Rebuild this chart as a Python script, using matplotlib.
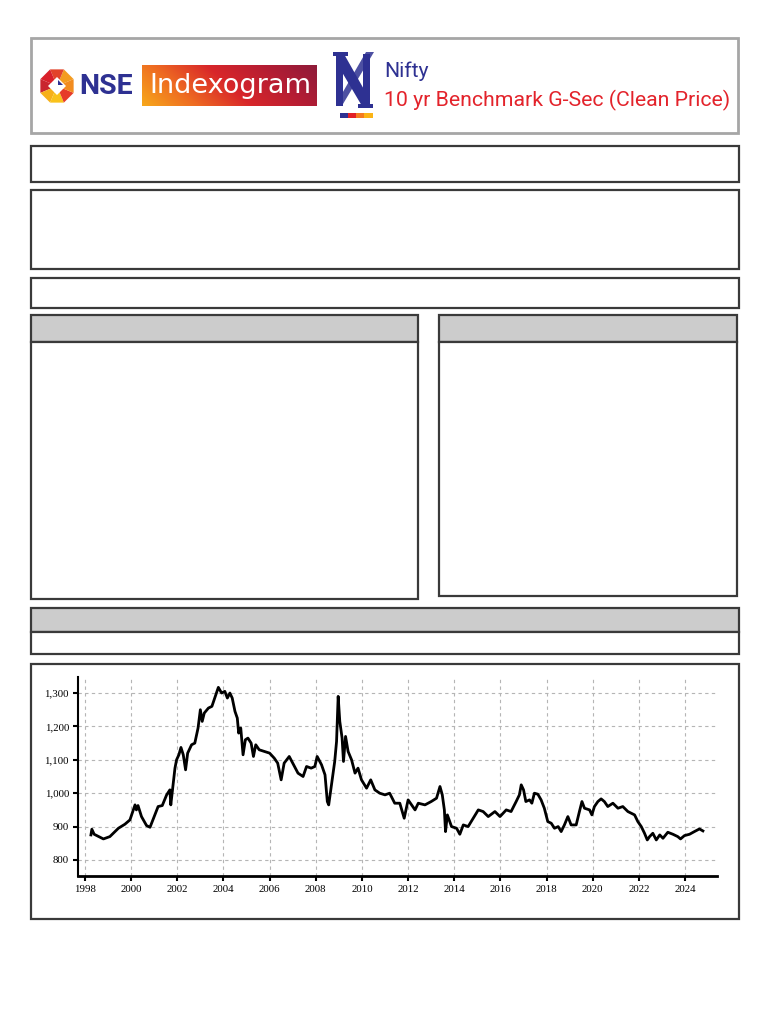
import matplotlib
matplotlib.use("Agg")
import matplotlib.pyplot as plt
import numpy as np
from matplotlib.patches import Rectangle, Polygon
from matplotlib.colors import LinearSegmentedColormap
from matplotlib.ticker import FuncFormatter

# index level (decimal year, clean price index)
years = [1998.26, 1998.30, 1998.40, 1998.80, 1999.08, 1999.45, 1999.73, 1999.95,
         2000.10, 2000.17, 2000.23, 2000.30, 2000.45, 2000.67, 2000.82, 2001.03,
         2001.17, 2001.35, 2001.54, 2001.68, 2001.72, 2001.80, 2001.90, 2001.97,
         2002.07, 2002.16, 2002.26, 2002.36, 2002.45, 2002.62, 2002.76, 2002.90,
         2003.00, 2003.08, 2003.17, 2003.35, 2003.50, 2003.60, 2003.70, 2003.78,
         2003.92, 2004.06, 2004.17, 2004.28, 2004.38, 2004.50, 2004.60, 2004.66,
         2004.75, 2004.85, 2004.95, 2005.06, 2005.20, 2005.30, 2005.40, 2005.55,
         2005.77, 2006.00, 2006.20, 2006.35, 2006.50, 2006.63, 2006.85, 2007.00,
         2007.23, 2007.45, 2007.60, 2007.80, 2007.96, 2008.06, 2008.25, 2008.40,
         2008.50, 2008.56, 2008.68, 2008.82, 2008.90, 2008.97, 2009.04, 2009.14,
         2009.20, 2009.29, 2009.40, 2009.55, 2009.70, 2009.83, 2009.98, 2010.20,
         2010.38, 2010.56, 2010.77, 2011.00, 2011.20, 2011.42, 2011.64, 2011.83,
         2012.00, 2012.15, 2012.30, 2012.44, 2012.73, 2013.00, 2013.23, 2013.38,
         2013.48, 2013.57, 2013.62, 2013.70, 2013.88, 2014.10, 2014.24, 2014.39,
         2014.60, 2014.82, 2015.04, 2015.25, 2015.47, 2015.76, 2015.98, 2016.25,
         2016.46, 2016.68, 2016.82, 2016.90, 2017.00, 2017.10, 2017.26, 2017.36,
         2017.47, 2017.62, 2017.76, 2017.90, 2018.05, 2018.20, 2018.34, 2018.50,
         2018.63, 2018.77, 2018.92, 2019.06, 2019.28, 2019.42, 2019.53, 2019.64,
         2019.86, 2019.96, 2020.07, 2020.22, 2020.36, 2020.50, 2020.65, 2020.87,
         2021.09, 2021.30, 2021.52, 2021.81, 2021.95, 2022.10, 2022.24, 2022.36,
         2022.46, 2022.60, 2022.75, 2022.90, 2023.04, 2023.25, 2023.47, 2023.68,
         2023.80, 2023.97, 2024.19, 2024.40, 2024.62, 2024.77]
values = [875, 892, 877, 863, 870, 895, 907, 920,
          950, 965, 950, 963, 930, 903, 898, 935,
          960, 963, 995, 1010, 965, 1015, 1075, 1100,
          1115, 1137, 1115, 1070, 1120, 1145, 1150, 1195,
          1250, 1215, 1240, 1255, 1260, 1280, 1300, 1317,
          1300, 1305, 1285, 1300, 1285, 1245, 1225, 1180,
          1195, 1115, 1160, 1165, 1150, 1110, 1145, 1130,
          1125, 1120, 1105, 1090, 1040, 1090, 1110, 1090,
          1060, 1050, 1080, 1075, 1080, 1110, 1085, 1055,
          975, 965, 1025, 1095, 1155, 1290, 1215, 1165,
          1095, 1170, 1125, 1100, 1060, 1075, 1040, 1015,
          1040, 1010, 1000, 995, 1000, 970, 970, 925,
          980, 965, 950, 970, 965, 975, 985, 1020,
          995, 950, 885, 935, 900, 895, 877, 905,
          900, 925, 950, 945, 930, 945, 930, 950,
          945, 975, 995, 1025, 1010, 975, 980, 970,
          1000, 997, 980, 955, 915, 910, 895, 900,
          885, 905, 930, 905, 905, 945, 975, 955,
          950, 935, 960, 975, 983, 975, 960, 970,
          955, 960, 945, 935, 915, 900, 880, 860,
          870, 880, 860, 875, 865, 883, 877, 870,
          863, 873, 877, 885, 893, 887]

x_ticks = [1998, 2000, 2002, 2004, 2006, 2008, 2010, 2012, 2014, 2016, 2018, 2020, 2022, 2024]
y_ticks = [800, 900, 1000, 1100, 1200, 1300]

title_top = "Nifty"
title_main = "10 yr Benchmark G-Sec (Clean Price)"

NAVY = "#2e3192"
RED = "#e3232b"
GRAY_FILL = "#cccccc"
EDGE = "#3a3a3a"

fig = plt.figure(figsize=(7.68, 10.24), dpi=100)
fig.patch.set_facecolor("white")

# page layer in pixel coordinates
bg = fig.add_axes([0, 0, 1, 1])
bg.set_axis_off()


def box(x0, y0, x1, y1, fc="white", ec=EDGE, lw=1.6):
    bg.add_patch(Rectangle((x0, y0), x1 - x0, y1 - y0, facecolor=fc, edgecolor=ec, linewidth=lw))


box(31, 38, 738, 133, ec="#a6a6a6", lw=2.0)
box(31, 146, 739, 182)
box(31, 190, 739, 269)
box(31, 278, 739, 308)
box(31, 315, 418, 342, fc=GRAY_FILL)
box(31, 342, 418, 599)
box(439, 315, 737, 342, fc=GRAY_FILL)
box(439, 342, 737, 596)
box(31, 608, 739, 632, fc=GRAY_FILL)
box(31, 632, 739, 654)
box(31, 664, 739, 919)

# NSE octagon logo
cx, cy, r = 57, 86, 18
oct_cols = ["#f39c1f", "#e2432a", "#d9202a", "#c9252f", "#f6b01a", "#f9c21b", "#e63b2a", "#f28c20"]
ang = np.deg2rad(np.arange(8) * 45 + 22.5)
for i in range(8):
    a0, a1 = ang[i], ang[(i + 1) % 8]
    bg.add_patch(Polygon([(cx, cy), (cx + r * np.cos(a0), cy - r * np.sin(a0)),
                          (cx + r * np.cos(a1), cy - r * np.sin(a1))],
                         closed=True, facecolor=oct_cols[i], edgecolor="none"))
bg.add_patch(Polygon([(cx, cy - 9), (cx + 9, cy), (cx, cy + 9), (cx - 9, cy)],
                     closed=True, facecolor="white", edgecolor="none"))
bg.add_patch(Polygon([(cx + 1, cy - 6), (cx + 6, cy - 1), (cx + 1, cy - 1)],
                     closed=True, facecolor=NAVY, edgecolor="none"))
bg.text(79, 87, "NSE", color=NAVY, fontsize=20.5, fontweight="bold",
        family="Roboto", ha="left", va="center")

# Indexogram banner
gx, gy = np.meshgrid(np.linspace(0, 1, 200), np.linspace(0, 1, 50))
grad = 0.8 * gx + 0.2 * (1 - gy)
cmap = LinearSegmentedColormap.from_list("idx", ["#f7a81b", "#ee6a22", "#d8262a", "#b51d33", "#8e1b3a"])
bg.imshow(grad, extent=[142, 317, 106, 65], cmap=cmap, aspect="auto", zorder=1)
bg.text(149, 86, "Indexogram", color="white", fontsize=19.5, family="DejaVu Sans",
        ha="left", va="center", zorder=2)

# Nifty "N" mark
nav = dict(facecolor=NAVY, edgecolor="none")
bg.add_patch(Polygon([(336, 54), (343, 54), (343, 106), (336, 106)], **nav))
bg.add_patch(Polygon([(363, 54), (370, 54), (370, 106), (363, 106)], **nav))
bg.add_patch(Polygon([(336, 54), (344, 54), (370, 100), (370, 106), (362, 106), (336, 62)], **nav))
bg.add_patch(Polygon([(333, 52), (348, 52), (348, 56), (333, 56)], **nav))
bg.add_patch(Polygon([(358, 104), (373, 104), (373, 108), (358, 108)], **nav))
bg.add_patch(Polygon([(366, 52), (374, 52), (343, 104), (336, 104)], facecolor=NAVY, edgecolor="none", alpha=0.85))
for x0, c in zip([340, 348, 356, 364], [NAVY, "#e21f26", "#f47b20", "#fbb415"]):
    bg.add_patch(Rectangle((x0, 113), 8.5, 5, facecolor=c, edgecolor="none"))

bg.text(384, 71, title_top, color=NAVY, fontsize=15.3, family="Roboto", ha="left", va="center")
bg.text(384, 100, title_main, color=RED, fontsize=15.3, family="Roboto", ha="left", va="center")

bg.set_xlim(0, 768)
bg.set_ylim(1024, 0)

# price chart
ax = fig.add_axes([78 / 768, 1 - 876 / 1024, (717 - 78) / 768, (876 - 677) / 1024])
ax.set_facecolor("none")
ax.plot(years, values, color="black", linewidth=2.0, solid_joinstyle="round", zorder=3)
ax.set_xlim(1997.7, 2025.38)
ax.set_ylim(752, 1348)
ax.set_xticks(x_ticks)
ax.set_yticks(y_ticks)
ax.yaxis.set_major_formatter(FuncFormatter(lambda v, p: f"{int(v):,}"))
ax.grid(True, color="#b5b5b5", linestyle=(0, (3, 3)), linewidth=0.8)
for s in ["top", "right"]:
    ax.spines[s].set_visible(False)
ax.spines["left"].set_linewidth(1.5)
ax.spines["bottom"].set_linewidth(2.0)
ax.tick_params(axis="both", length=3.5, width=1.5, color="black", pad=3, labelsize=7.8)
for lab in ax.get_xticklabels() + ax.get_yticklabels():
    lab.set_family("Liberation Serif")

fig.savefig("out.png", dpi=100, facecolor="white")
